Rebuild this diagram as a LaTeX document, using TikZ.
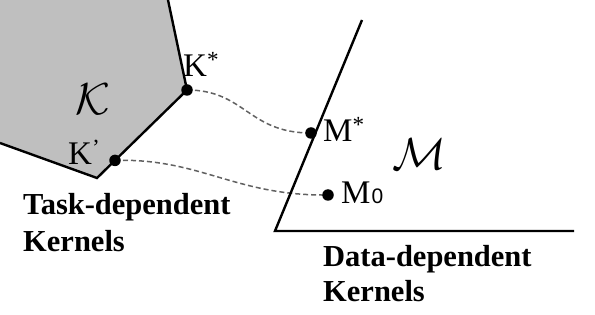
\documentclass[tikz,border=0pt]{standalone}
\usepackage{fontspec}
\setmainfont{Liberation Serif}
\newfontfamily\numsans{Liberation Sans}
\usetikzlibrary{calc}
\begin{document}
\begin{tikzpicture}[x=1pt,y=-1pt,
  edge/.style={line width=2.4pt, black, line join=miter},
  dot/.style={circle, fill=black, inner sep=0pt, minimum size=11.5pt},
  link/.style={dash pattern=on 5pt off 3pt, line width=1.5pt, black!62},
  lbl/.style={font=\fontsize{33}{33}\selectfont, inner sep=0pt},
  capt/.style={font=\fontsize{30.5}{30.5}\selectfont\bfseries, inner sep=0pt},
  scr/.style={font=\Huge, inner sep=0pt, scale=1.8}]
\useasboundingbox (0,0) rectangle (595,315);
% task-dependent region
\coordinate (pt) at (168,0);
\coordinate (pk) at (187,90);
\coordinate (pv) at (97,178);
\coordinate (pl) at (0,143);
\fill[black!25] (0,0) -- (pt) -- (pk) -- (pv) -- (pl) -- cycle;
% data-dependent cone
\coordinate (mtop) at (362,20);
\coordinate (mcorner) at (275,231);
\coordinate (mright) at (574,231);
% dashed links (drawn first, under the dots)
\coordinate (kpp) at ($(pk)!0.8!(pv)$);
\draw[link] (pk) .. controls (245,90) and (248,133) .. (311,133);
\draw[link] (kpp) .. controls (200,158) and (235,196) .. (328,195);
\draw[edge] (pt) -- (pk) -- (pv) -- (pl);
\draw[edge] (mtop) -- (mcorner) -- (mright);
% points
\node[dot] (kstar) at (pk) {};
\node[dot] (kprime) at (kpp) {};
\node[dot] (mstar) at (311,133) {};
\node[dot] (mzero) at (328,195) {};
% labels
\node[lbl, anchor=base west] (kstarl) at (183,77) {K\textsuperscript{*}};
\node[lbl, anchor=base west] (kprimel) at (68,165) {K\textsuperscript{’}};
\node[lbl, anchor=base west] (mstarl) at (323,142) {M\textsuperscript{*}};
\node[lbl, anchor=base west] (mzerol) at (341,204) {M\kern1pt{\numsans\fontsize{21}{21}\selectfont 0}};
\node[scr] (kcal) at (93,99) {$\mathcal{K}$};
\node[scr] (mcal) at (419,154) {$\mathcal{M}$};
\node[capt, anchor=base west] (td1) at (23,215) {Task-dependent};
\node[capt, anchor=base west] (td2) at (23,252) {Kernels};
\node[capt, anchor=base west] (dd1) at (323,267) {Data-dependent};
\node[capt, anchor=base west] (dd2) at (323,302) {Kernels};
\end{tikzpicture}
\end{document}
